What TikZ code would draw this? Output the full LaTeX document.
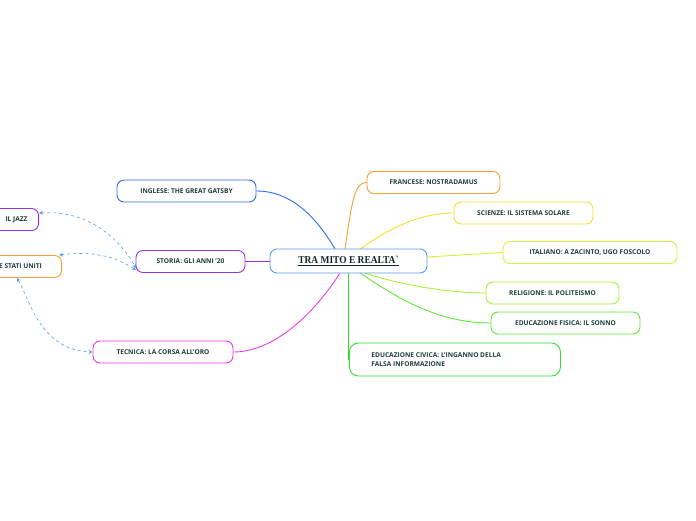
\documentclass[tikz,border=0pt]{standalone}
\usepackage{fontspec}
\setmainfont{Open Sans}
\newfontfamily\titlefont{Liberation Serif}
\usetikzlibrary{arrows.meta}
\definecolor{txt}{HTML}{1F3D3D}
\definecolor{cblue}{HTML}{2F6BF0}
\definecolor{cviol}{HTML}{9A30E8}
\definecolor{cmag}{HTML}{EE38EE}
\definecolor{corg}{HTML}{F5A030}
\definecolor{cyel}{HTML}{F5E030}
\definecolor{clime}{HTML}{D8F038}
\definecolor{cgl}{HTML}{A8F038}
\definecolor{cgr}{HTML}{60E838}
\definecolor{cgg}{HTML}{30E030}
\definecolor{cdash}{HTML}{5A9AE8}
\begin{document}
\begin{tikzpicture}[x=1pt,y=-1pt,
  box/.style={draw=#1,line width=0.9pt,rounded corners=7pt,fill=white,text=txt,font=\bfseries\fontsize{6.6}{8.5}\selectfont,inner sep=0pt,minimum height=22pt},
  link/.style={draw=#1,line width=0.9pt},
  rel/.style={draw=cdash,dashed,line width=0.6pt,{Stealth[length=4pt,width=4pt,open]}-{Stealth[length=4pt,width=4pt,open]}}]
\useasboundingbox (0,0) rectangle (696,520);
\node[box=cblue,minimum width=139pt] (ing) at (186.5,191) {INGLESE: THE GREAT GATSBY};
\node[box=cviol,minimum width=140pt,anchor=east] (jazz) at (39,219.5) {\hspace*{96pt}IL JAZZ};
\node[box=corg,minimum width=142pt,anchor=east] (usa) at (62,266.5) {\hspace*{60pt}E STATI UNITI};
\node[box=cviol,minimum width=109pt] (sto) at (190.5,261.5) {STORIA: GLI ANNI '20};
\node[box=cmag,minimum width=140pt] (tec) at (163,352) {TECNICA: LA CORSA ALL'ORO};
\node[box=corg,minimum width=133pt] (fra) at (433.5,182.5) {FRANCESE: NOSTRADAMUS};
\node[box=cyel,minimum width=139pt] (sci) at (523.5,213) {SCIENZE: IL SISTEMA SOLARE};
\node[box=clime,minimum width=174pt] (ita) at (590,252.5) {ITALIANO: A ZACINTO, UGO FOSCOLO};
\node[box=cgl,minimum width=133pt] (rel) at (552.5,293) {RELIGIONE: IL POLITEISMO};
\node[box=cgr,minimum width=149pt] (fis) at (565.5,323) {EDUCAZIONE FISICA: IL SONNO};
\node[box=cgg,minimum width=211pt,minimum height=33pt,rounded corners=9pt,align=left,anchor=west] (civ) at (349,359.5) {\hspace*{18pt}\parbox{185pt}{EDUCAZIONE CIVICA: L'INGANNO DELLA\\FALSA INFORMAZIONE}};
\draw[link=cblue] (335,249) .. controls (315,215) and (290,191) .. (ing.east);
\draw[link=corg] (345,249) .. controls (352,200) and (355,182) .. (fra.west);
\draw[link=cyel] (360,249) .. controls (390,228) and (420,213) .. (sci.west);
\draw[link=clime] (427,257) -- (ita.west);
\draw[link=cgl] (365,273) .. controls (400,285) and (450,293) .. (rel.west);
\draw[link=cgr] (360,273) .. controls (400,300) and (440,323) .. (fis.west);
\draw[link=cgg] (348,273) -- (348,359.5) -- (civ.west);
\draw[link=cviol] (270,261.5) -- (sto.east);
\draw[link=cmag] (340,273) .. controls (310,320) and (270,352) .. (tec.east);
\node[draw=cdash,line width=0.9pt,rounded corners=7pt,fill=white,minimum width=157pt,minimum height=24pt,inner sep=0pt,font=\titlefont\bfseries\fontsize{10.5}{12}\selectfont,text=txt!60!black] (c) at (348.5,261) {\scalebox{0.9}[1]{\underline{TRA MITO E REALTA`}}};
\draw[rel] (39,213) .. controls (90,210) and (120,240) .. (136,268);
\draw[rel] (59,255) .. controls (100,250) and (120,260) .. (136,270);
\draw[rel] (17,278) .. controls (30,300) and (40,350) .. (tec.west);
\end{tikzpicture}
\end{document}
